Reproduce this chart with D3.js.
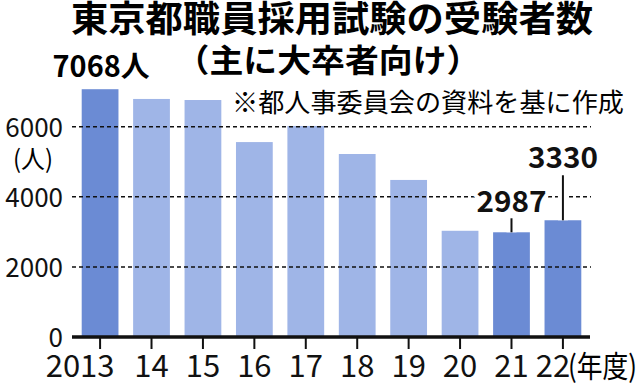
<!DOCTYPE html>
<html>
<head>
<meta charset="utf-8">
<script src="https://cdn.jsdelivr.net/npm/d3@7"></script>
<style>
  body { margin: 0; background: #fff; }
  text { font-family: "Noto Sans CJK JP", "Noto Sans", sans-serif; }
</style>
</head>
<body>
<div id="containerDiv"></div>
<script>
// data
var years = ["2013", "14", "15", "16", "17", "18", "19", "20", "21", "22"];
var applicants = [7068, 6790, 6760, 5560, 6020, 5220, 4480, 3030, 2987, 3330];
var highlighted = ["2013", "21", "22"];
var yTicks = [0, 2000, 4000, 6000];

var w = 640;
var h = 386;

var svg = d3.select("#containerDiv")
            .append("svg")
            .attr("width", w)
            .attr("height", h);

var x = d3.scaleBand()
          .domain(years)
          .range([74.5, 588.5])
          .paddingInner(0.285)
          .paddingOuter(0.14);

var y = d3.scaleLinear()
          .domain([0, 7000])
          .range([337, 91.6]);

var bw = x.bandwidth();

// title
svg.append("text")
   .attr("x", 332).attr("y", 32)
   .attr("text-anchor", "middle")
   .attr("font-size", "36px")
   .attr("font-weight", "bold")
   .attr("textLength", 522)
   .attr("lengthAdjust", "spacingAndGlyphs")
   .text("東京都職員採用試験の受験者数");

svg.append("text")
   .attr("x", 328).attr("y", 72)
   .attr("text-anchor", "middle")
   .attr("font-size", "32px")
   .attr("font-weight", "bold")
   .attr("textLength", 305)
   .attr("lengthAdjust", "spacingAndGlyphs")
   .text("（主に大卒者向け）");

svg.append("text")
   .attr("x", 232).attr("y", 112)
   .attr("font-size", "26px")
   .attr("textLength", 392)
   .attr("lengthAdjust", "spacingAndGlyphs")
   .text("※都人事委員会の資料を基に作成");

// bars
svg.append("g")
   .selectAll("rect")
   .data(applicants)
   .enter()
   .append("rect")
   .attr("x", function(d, i) { return x(years[i]); })
   .attr("y", function(d) { return y(d); })
   .attr("width", bw)
   .attr("height", function(d) { return y(0) - y(d); })
   .attr("fill", function(d, i) {
      return highlighted.indexOf(years[i]) >= 0 ? "#6b8bd4" : "#9fb5e7";
   });

// dashed grid lines, on top of the bars
svg.append("g")
   .selectAll("line")
   .data(yTicks.slice(1))
   .enter()
   .append("line")
   .attr("x1", 72).attr("x2", 591)
   .attr("y1", function(d) { return y(d); })
   .attr("y2", function(d) { return y(d); })
   .attr("stroke", "#111")
   .attr("stroke-width", 1.5)
   .attr("stroke-dasharray", "4,3");

// y axis
var yAxis = svg.append("g")
   .attr("transform", "translate(72,0)")
   .call(d3.axisLeft(y).tickValues(yTicks).tickSize(0).tickPadding(9).tickFormat(d3.format("d")));
yAxis.select(".domain").remove();
yAxis.selectAll("text")
   .attr("font-family", "Noto Sans CJK JP")
   .attr("font-size", "26px")
   .attr("fill", "#111")
   .attr("dy", "0.36em");

svg.append("text")
   .attr("x", 33).attr("y", 168)
   .attr("text-anchor", "middle")
   .attr("font-size", "25px")
   .attr("textLength", 40)
   .attr("lengthAdjust", "spacingAndGlyphs")
   .text("(人)");

// x axis
var xAxis = svg.append("g")
   .attr("transform", "translate(0," + y(0) + ")")
   .call(d3.axisBottom(x).tickSize(12).tickSizeOuter(0).tickPadding(6));
xAxis.select(".domain").remove();
xAxis.selectAll(".tick line")
   .attr("stroke", "#111")
   .attr("stroke-width", 2);
xAxis.selectAll("text")
   .attr("font-family", "Noto Sans CJK JP")
   .attr("font-size", "31px")
   .attr("fill", "#111")
   .attr("dx", function(d) {
      if (d === "2013") return "-20px";
      if (d === "22") return "-10px";
      return 0;
   });

svg.append("line")
   .attr("x1", 72).attr("x2", 590)
   .attr("y1", y(0)).attr("y2", y(0))
   .attr("stroke", "#111")
   .attr("stroke-width", 3.5);

svg.append("text")
   .attr("x", 568).attr("y", 377)
   .attr("font-size", "30px")
   .attr("textLength", 69)
   .attr("lengthAdjust", "spacingAndGlyphs")
   .text("(年度)");

// value callouts
svg.append("text")
   .attr("x", x("2013") + bw / 2 + 1)
   .attr("y", y(applicants[0]) - 12)
   .attr("text-anchor", "middle")
   .attr("font-size", "29px")
   .attr("font-weight", "bold")
   .attr("textLength", 97)
   .attr("lengthAdjust", "spacingAndGlyphs")
   .text(applicants[0] + "人");

var callouts = [{ year: "21", lift: 20, stem: 14 }, { year: "22", lift: 52, stem: 45 }];

callouts.forEach(function(c) {
   var i = years.indexOf(c.year);
   var cx = x(c.year) + bw / 2;
   var top = y(applicants[i]);
   svg.append("line")
      .attr("x1", cx).attr("x2", cx)
      .attr("y1", top - c.stem).attr("y2", top)
      .attr("stroke", "#fff")
      .attr("stroke-width", 10);
   svg.append("line")
      .attr("x1", cx).attr("x2", cx)
      .attr("y1", top - c.stem).attr("y2", top)
      .attr("stroke", "#111")
      .attr("stroke-width", 2);
   svg.append("text")
      .attr("x", cx)
      .attr("y", top - c.lift)
      .attr("text-anchor", "middle")
      .attr("font-size", "29px")
      .attr("font-weight", "bold")
      .attr("textLength", 70)
      .attr("lengthAdjust", "spacingAndGlyphs")
      .attr("stroke", "#fff")
      .attr("stroke-width", 8)
      .attr("paint-order", "stroke")
      .attr("fill", "#111")
      .text(applicants[i]);
});
</script>
</body>
</html>
